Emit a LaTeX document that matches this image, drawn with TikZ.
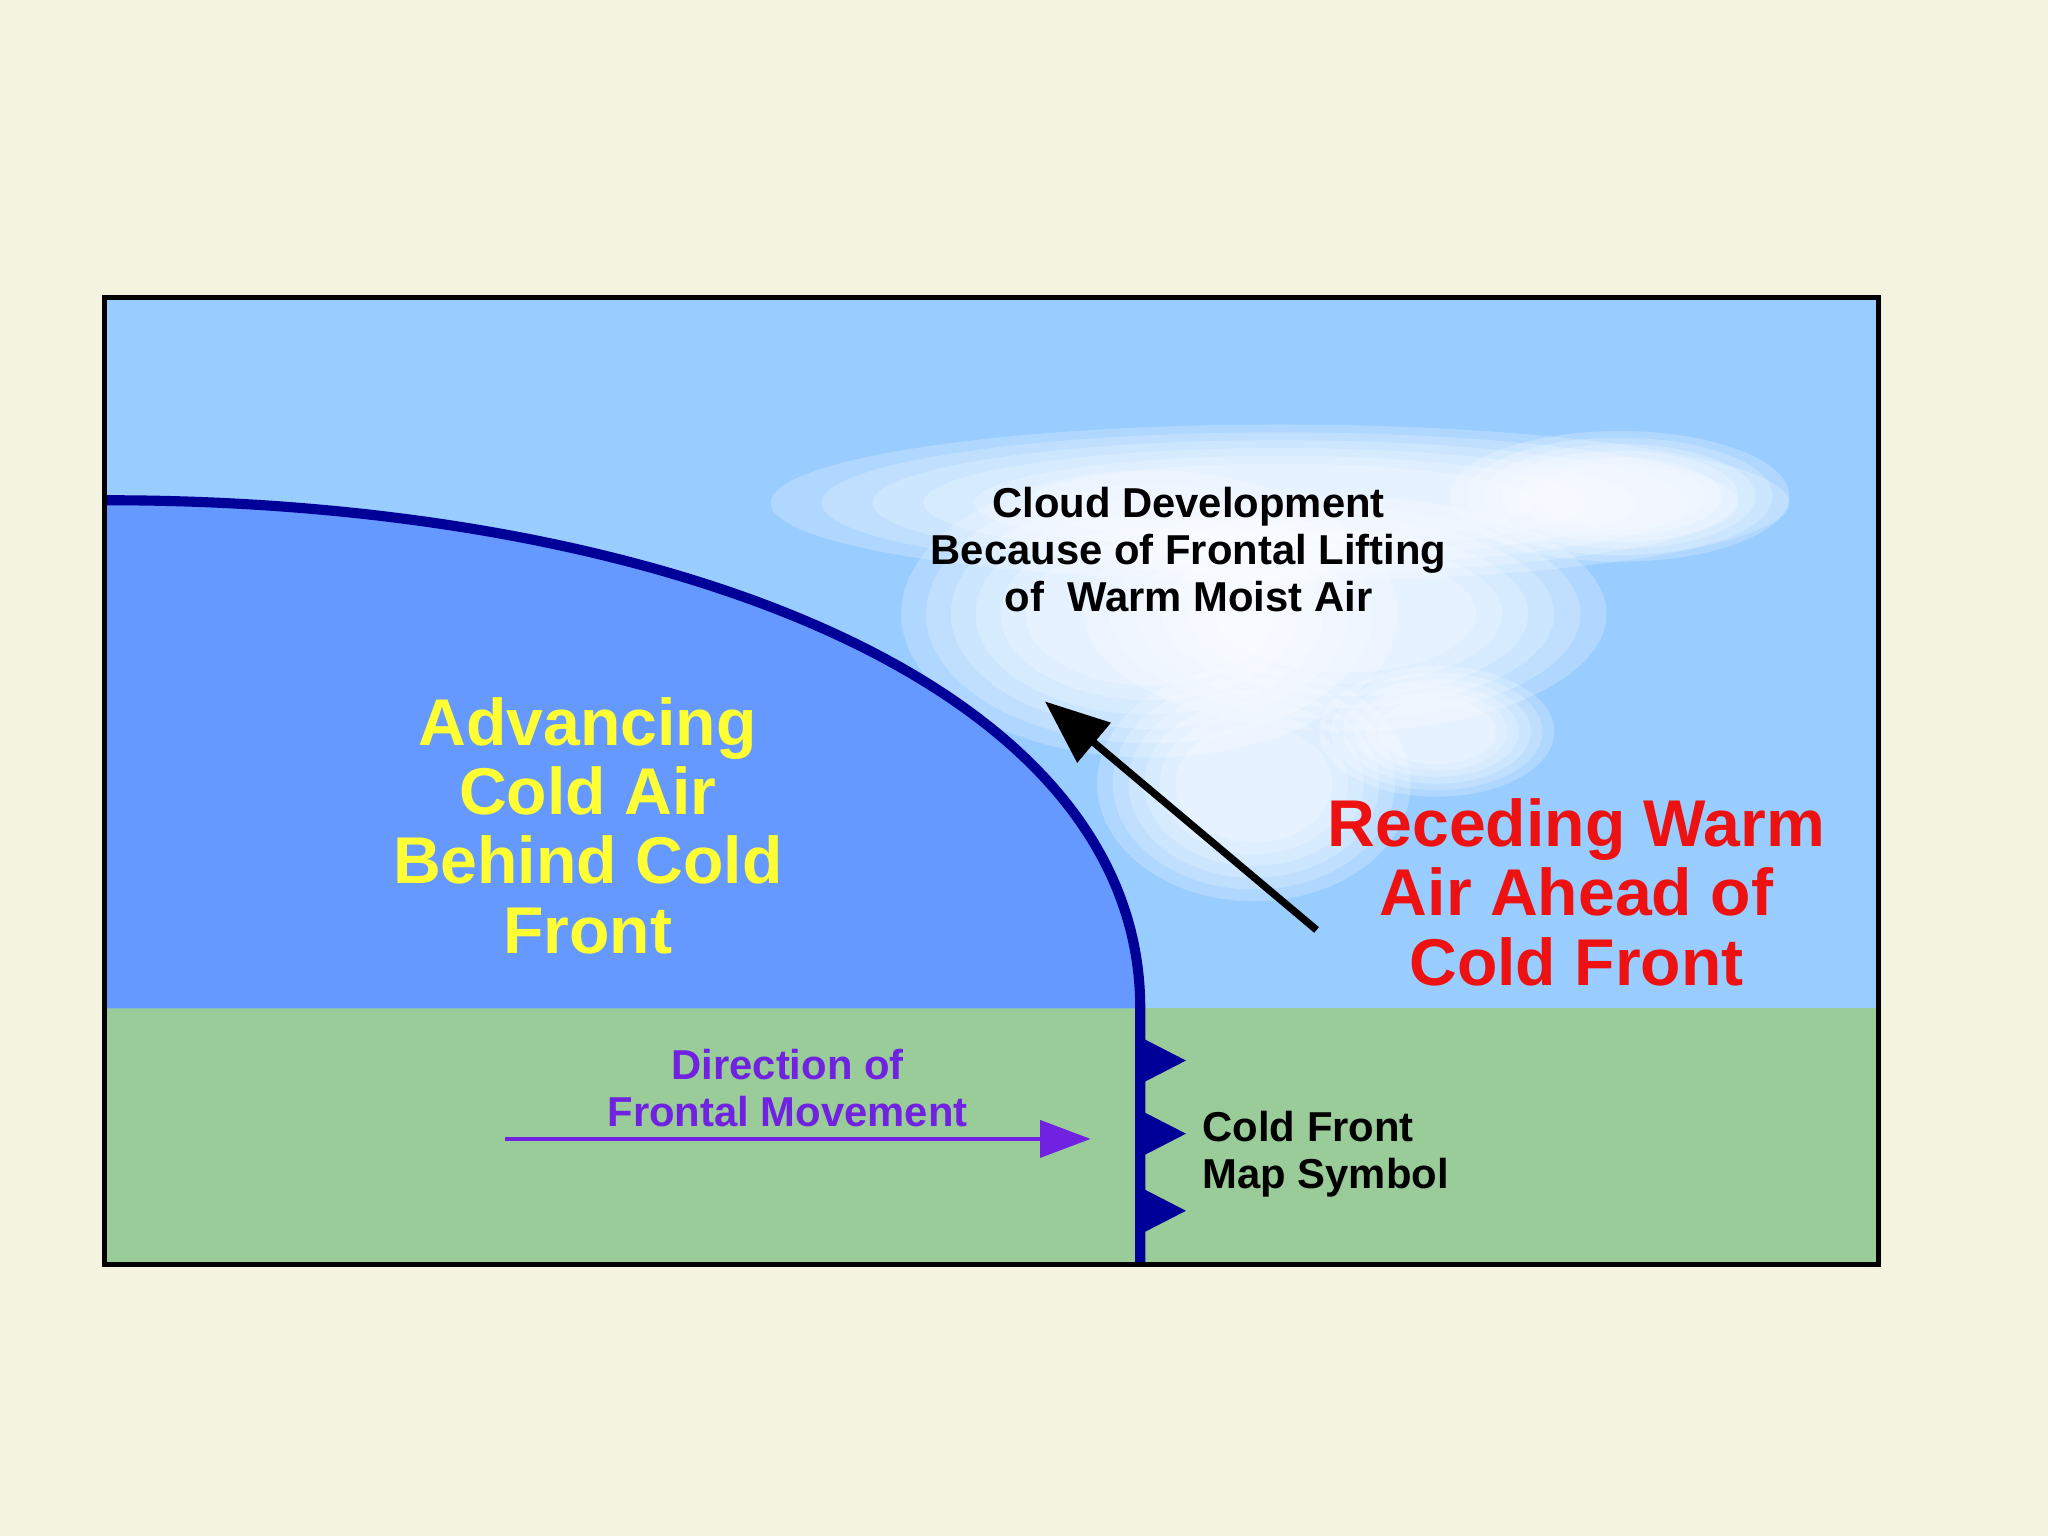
\documentclass[tikz,border=0pt]{standalone}
\usepackage{fontspec}
\setmainfont{Liberation Sans}
\usetikzlibrary{arrows.meta}
\definecolor{bg}{HTML}{F3F3DF}
\definecolor{sky}{HTML}{99CCFF}
\definecolor{ground}{HTML}{99CC99}
\definecolor{dome}{HTML}{6699FF}
\definecolor{front}{HTML}{000099}
\definecolor{yel}{HTML}{FFFF33}
\definecolor{redt}{HTML}{EE1111}
\definecolor{purp}{HTML}{7022E0}
\tikzset{
  lbl/.style={font=\bfseries\fontsize{9.1}{10.2}\selectfont, align=center, inner sep=0pt},
  big/.style={font=\bfseries\fontsize{14.4}{15.1}\selectfont, align=center, inner sep=0pt},
  cl/.style={fill=white, opacity=0.22},
  tri/.style={fill=front},
}
\begin{document}
\begin{tikzpicture}[x=0.01cm,y=-0.01cm]
\useasboundingbox (0,0) rectangle (1568,1176);
\fill[bg] (0,0) rectangle (1568,1176);
\fill[sky] (80,228) rectangle (1438,772);
\fill[ground] (80,772) rectangle (1438,968);
% cloud
\foreach \s in {1.0,0.9,0.8,0.7,0.6,0.5}{
 \fill[cl] (980,385) ellipse ({390*\s} and {60*\s});
 \fill[cl] (880,470) ellipse ({190*\s} and {110*\s});
 \fill[cl] (1030,470) ellipse ({200*\s} and {90*\s});
 \fill[cl] (1240,380) ellipse ({130*\s} and {50*\s});
 \fill[cl] (960,600) ellipse ({120*\s} and {90*\s});
 \fill[cl] (1100,560) ellipse ({90*\s} and {50*\s});
}
% dome
\fill[dome] (82,383) .. controls (500,383) and (873,520) .. (873,772) -- (82,772) -- cycle;
\draw[front, line width=2.2pt] (82,383) .. controls (500,383) and (873,520) .. (873,772) -- (873,968);
\foreach \y in {812,868,927}{
 \fill[tri] (873,\y-18) -- (908,\y) -- (873,\y+18) -- cycle;
}
\draw[line width=1pt] (80,228) rectangle (1438,968);
\node[lbl] (cloudt) at (910,421) {Cloud Development\\Because of Frontal Lifting\\of\ \ Warm Moist Air};
\node[big, text=yel] (cold) at (450,632) {Advancing\\Cold Air\\Behind Cold\\Front};
\node[big, text=redt] (warm) at (1207,683) {Receding Warm\\Air Ahead of\\Cold Front};
\node[lbl, text=purp] (dir) at (603,833) {Direction of\\Frontal Movement};
\node[lbl, align=left, anchor=west] (sym) at (920,884) {Cold Front\\Map Symbol};
\coordinate (a1) at (1008,712); \coordinate (a2) at (800,537);
\draw[line width=1.6pt, -{Triangle[length=14pt,width=11pt]}] (a1) -- (a2);
\coordinate (b1) at (387,872); \coordinate (b2) at (835,872);
\draw[purp, line width=1pt, -{Triangle[length=11pt,width=8pt]}] (b1) -- (b2);
\end{tikzpicture}
\end{document}
